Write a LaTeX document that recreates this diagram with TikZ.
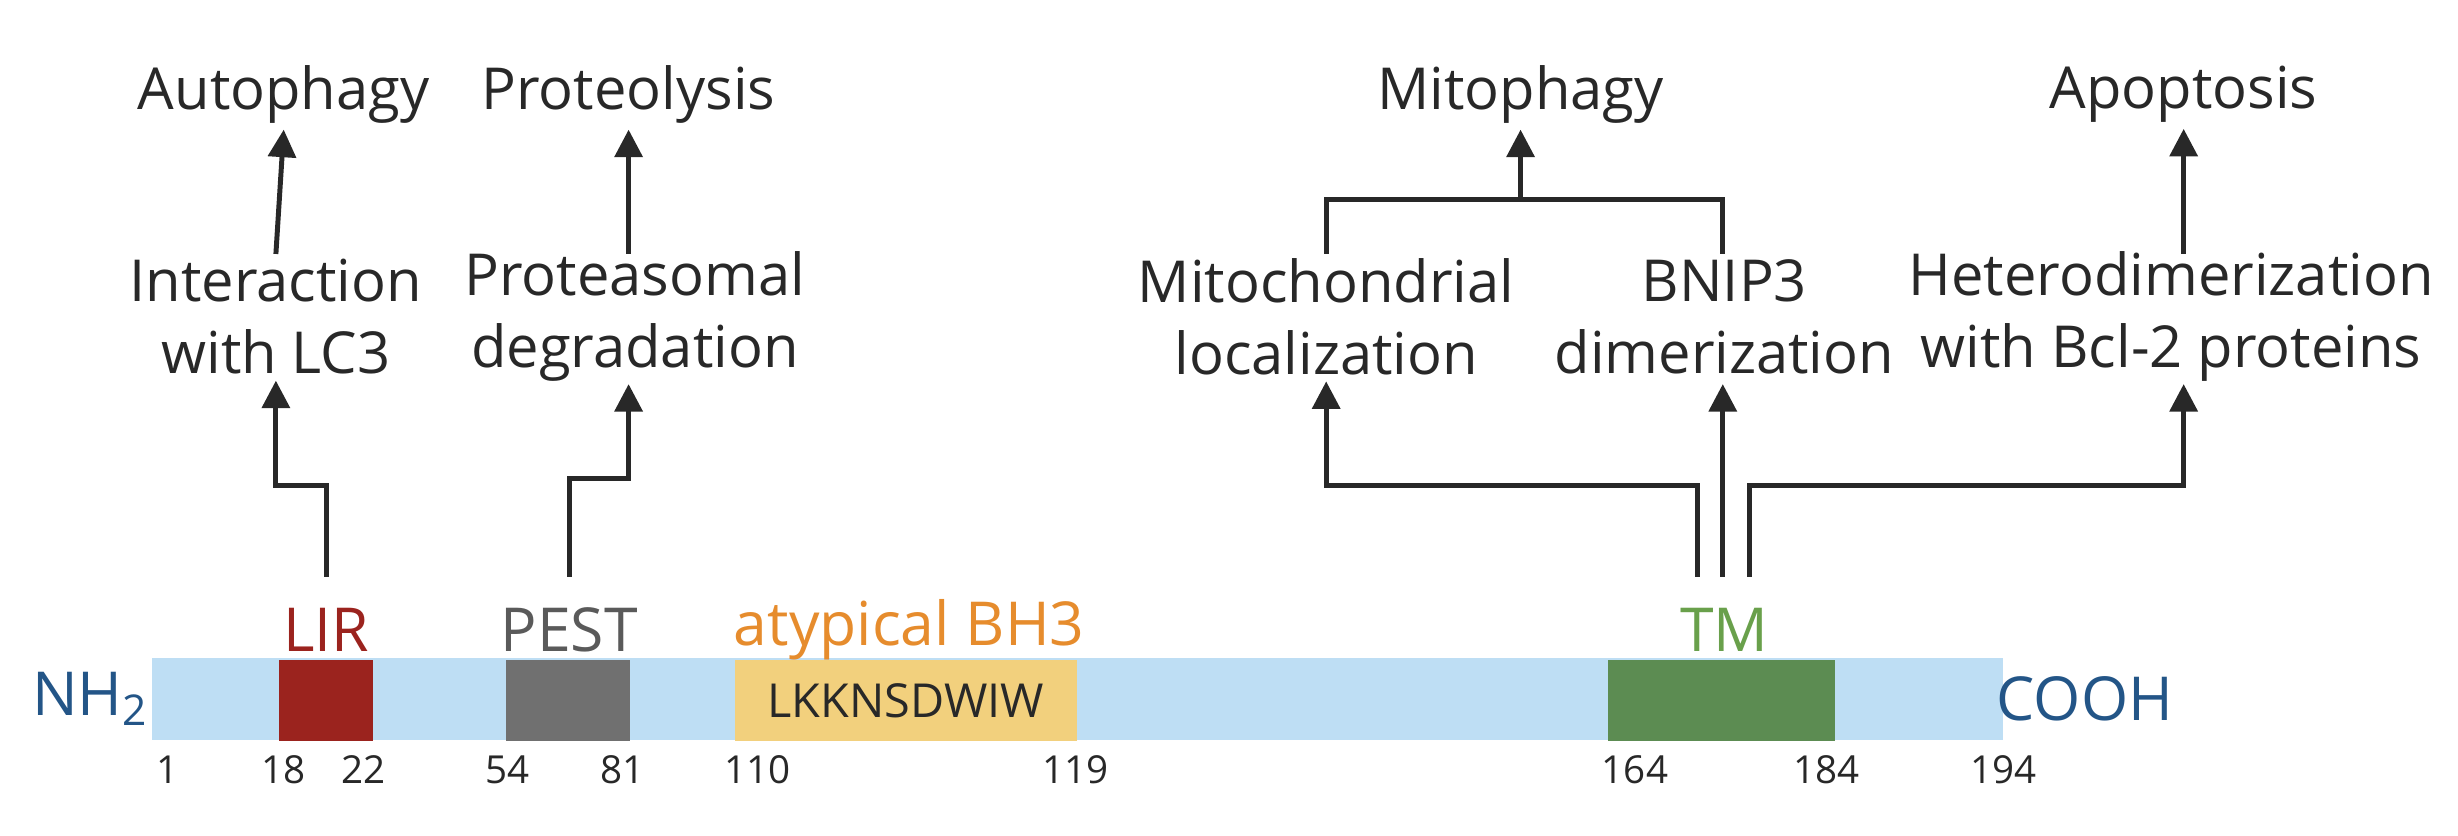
\documentclass[tikz,border=0pt]{standalone}
\usepackage{fontspec}
\setmainfont{Open Sans}
\usetikzlibrary{arrows.meta}
\definecolor{barblue}{RGB}{190,222,244}
\definecolor{lirred}{RGB}{155,35,30}
\definecolor{pestgrey}{RGB}{112,112,112}
\definecolor{bhyellow}{RGB}{242,208,125}
\definecolor{tmgreen}{RGB}{92,140,82}
\definecolor{endblue}{RGB}{35,85,135}
\definecolor{bhorange}{RGB}{230,140,45}
\definecolor{tmtext}{RGB}{105,160,75}
\definecolor{txt}{RGB}{40,40,40}
\begin{document}
\begin{tikzpicture}[x=0.01cm,y=-0.01cm,
  lbl/.style={font=\fontsize{10.5}{13}\selectfont,text=txt,align=center,inner sep=1pt},
  dom/.style={font=\fontsize{11}{13}\selectfont,inner sep=1pt},
  num/.style={font=\fontsize{7}{8}\selectfont,text=txt,inner sep=1pt},
  con/.style={line width=0.9pt,txt},
  arr/.style={con,-{Triangle[length=5pt,width=5pt]}}]
\useasboundingbox (0,0) rectangle (1568,533);
% bar
\fill[barblue] (97,420) rectangle (1278,472);
\node[fill=lirred,minimum width=0.6cm,minimum height=0.52cm,inner sep=0,anchor=north west] (lir) at (177,420) {};
\node[fill=pestgrey,minimum width=0.79cm,minimum height=0.52cm,inner sep=0,anchor=north west] (pest) at (322,420) {};
\node[fill=bhyellow,minimum width=2.18cm,minimum height=0.52cm,inner sep=0,anchor=north west,font=\fontsize{8.5}{10}\selectfont,text=txt] (bh3) at (468,420) {LKKNSDWIW};
\node[fill=tmgreen,minimum width=1.45cm,minimum height=0.52cm,inner sep=0,anchor=north west] (tm) at (1025,420) {};
\node[dom,text=endblue] (nh2) at (58,446) {NH\textsubscript{2}};
\node[dom,text=endblue] (cooh) at (1330,446) {COOH};
% domain labels
\node[dom,text=lirred] (lirl) at (208,402) {LIR};
\node[dom,text=pestgrey!80!black] (pestl) at (363,402) {PEST};
\node[dom,text=bhorange] (bhl) at (580,402) {atypical BH3};
\node[dom,text=tmtext] (tml) at (1100,402) {TM};
% numbers
\foreach \n/\x in {1/107,18/181,22/232,54/324,81/397,110/483,119/686,164/1043,184/1165,194/1278}
  \node[num] (n\n) at (\x,491) {\n};
% top labels
\node[lbl] (auto) at (181,60) {Autophagy};
\node[lbl] (prot) at (401,60) {Proteolysis};
\node[lbl] (mito) at (970,60) {Mitophagy};
\node[lbl] (apop) at (1393,60) {Apoptosis};
\node[lbl] (lc3) at (176,202) {Interaction\\with LC3};
\node[lbl] (deg) at (405,202) {Proteasomal\\degradation};
\node[lbl] (loc) at (846,202) {Mitochondrial\\localization};
\node[lbl] (dim) at (1100,202) {BNIP3\\dimerization};
\node[lbl] (het) at (1385,202) {Heterodimerization\\with Bcl-2 proteins};
% coordinates
\coordinate (lirtop) at (208,368);
\coordinate (pesttop) at (363,368);
\coordinate (tm1) at (1083,368);
\coordinate (tm2) at (1099,368);
\coordinate (tm3) at (1116,368);
% connectors
\draw[arr] (lirtop) -- (208,310) -- (176,310) -- (lc3.south);
\draw[arr] (pesttop) -- (363,305) -- (401,305) -- (401,245);
\draw[arr] (tm1) -- (1083,310) -- (846,310) -- (loc.south);
\draw[arr] (tm2) -- (1099,245);
\draw[arr] (tm3) -- (1116,310) -- (1393,310) -- (1393,245);
\draw[arr] (176,162) -- (auto.south);
\draw[arr] (401,162) -- (prot.south);
\draw[arr] (1393,162) -- (apop.south);
\draw[con] (846,162) -- (846,127) -- (1099,127) -- (1099,162);
\draw[arr] (970,127) -- (mito.south);
\end{tikzpicture}
\end{document}
